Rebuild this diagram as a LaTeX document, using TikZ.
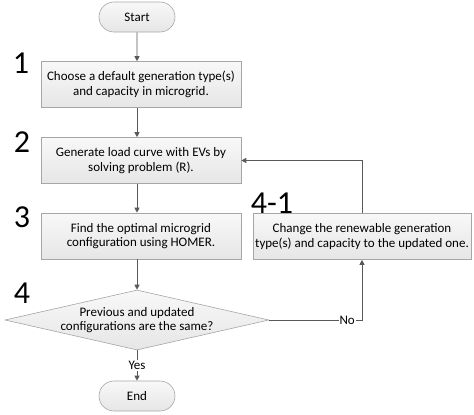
\documentclass[tikz,border=0pt]{standalone}
\usepackage{fontspec}
\setmainfont{Carlito}
\usetikzlibrary{arrows.meta,shapes.geometric,shapes.misc}

\definecolor{boxline}{HTML}{A6A6A6}
\definecolor{boxtop}{HTML}{F8F8F8}
\definecolor{boxbottom}{HTML}{E6E6E6}
\definecolor{flowline}{HTML}{595959}

\begin{document}
\begin{tikzpicture}[x=1pt,y=-1pt,>={Triangle[length=5pt,width=5pt]},
    stepbox/.style={draw=boxline,line width=0.6pt,top color=boxtop,bottom color=boxbottom,
        minimum width=200pt,minimum height=46pt,inner sep=0pt,align=center,
        font=\fontsize{13}{14.5}\selectfont},
    terminal/.style={rounded rectangle,draw=boxline,line width=0.6pt,top color=boxtop,
        bottom color=boxbottom,minimum width=76pt,minimum height=30pt,inner sep=0pt,
        font=\fontsize{13}{14.5}\selectfont},
    decision/.style={diamond,draw=boxline,line width=0.6pt,top color=boxtop,
        bottom color=boxbottom,minimum width=264pt,minimum height=60pt,inner sep=0pt},
    stepnum/.style={font=\fontsize{32}{32}\selectfont,inner sep=0pt},
    answer/.style={fill=white,inner sep=1pt,font=\fontsize{13}{14}\selectfont},
    flow/.style={draw=flowline,line width=0.9pt}]
    \useasboundingbox (0,0) rectangle (474,415);
    % flow chart boxes
    \node[terminal] (start) at (137,17) {Start};
    \node[stepbox] (choose) at (141,84.5) {Choose a default generation type(s)\\and capacity in microgrid.};
    \node[stepbox] (load) at (141,160.5) {Generate load curve with EVs by\\solving problem (R).};
    \node[stepbox] (homer) at (141,236) {Find the optimal microgrid\\configuration using HOMER.};
    \node[stepbox,minimum width=218pt] (change) at (362,236.5) {Change the renewable generation\\type(s) and capacity to the updated one.};
    \node[decision] (same) at (137,320) {};
    \node[align=center,font=\fontsize{13}{14.5}\selectfont,inner sep=0pt] (sametext) at (same.center) {Previous and updated\\configurations are the same?};
    \node[terminal] (end) at (137,396) {End};
    % step numbers
    \node[stepnum] (n1) at (21,63) {1};
    \node[stepnum] (n2) at (22,142) {2};
    \node[stepnum] (n3) at (22,217) {3};
    \node[stepnum] (n4) at (22,293) {4};
    \node[stepnum] (n41) at (272,203) {4-1};
    % connectors
    \draw[flow,->] (start) -- (start |- choose.north);
    \draw[flow,->] (start |- choose.south) -- (start |- load.north);
    \draw[flow,->] (start |- load.south) -- (start |- homer.north);
    \draw[flow,->] (start |- homer.south) -- (same.north);
    \draw[flow,->] (same.south) -- node[answer] {Yes} (end.north);
    \draw[flow,->] (same.east) -- node[answer,pos=0.84] {No} (same.east -| change.south) -- (change.south);
    \draw[flow,->] (change.north) -- (change.north |- load.east) -- (load.east);
\end{tikzpicture}
\end{document}
